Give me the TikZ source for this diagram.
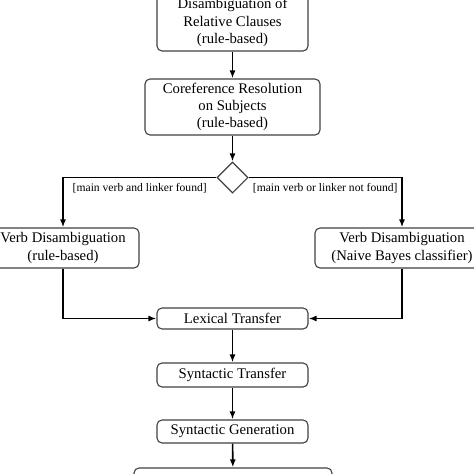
\documentclass[tikz,border=0pt]{standalone}
\usepackage{fontspec}
\setmainfont{Liberation Serif}
\usetikzlibrary{shapes.geometric,arrows.meta}
\begin{document}
\begin{tikzpicture}[x=1pt,y=-1pt,
  font=\fontsize{14.7}{17.3}\selectfont,
  box/.style={draw=black!75, line width=1.1pt, rounded corners=5pt, align=center, inner sep=0pt},
  dec/.style={draw=black!75, line width=1.1pt, diamond, inner sep=0pt, minimum width=31pt, minimum height=31pt},
  conn/.style={line width=1.6pt, -{Latex[length=8pt,width=6pt]}},
  lbl/.style={font=\fontsize{11.6}{13}\selectfont, inner sep=2pt, yshift=-3pt}]
\useasboundingbox (0,0) rectangle (474,474);
\node[box, minimum width=151pt, minimum height=57pt] (dis) at (232.5,22.5) {Disambiguation of\\Relative Clauses\\(rule-based)};
\node[box, minimum width=175pt, minimum height=56pt] (cor) at (232.5,107) {Coreference Resolution\\on Subjects\\(rule-based)};
\node[dec] (dia) at (232.5,177.5) {};
\node[box, minimum width=152pt, minimum height=40pt] (vl) at (63,248) {Verb Disambiguation\\(rule-based)};
\node[box, minimum width=174pt, minimum height=40pt] (vr) at (402,248) {Verb Disambiguation\\(Naive Bayes classifier)};
\node[box, minimum width=151pt, minimum height=21pt] (lex) at (232.5,318.5) {Lexical Transfer};
\node[box, minimum width=151pt, minimum height=24pt] (st) at (232.5,375) {Syntactic Transfer};
\node[box, minimum width=151pt, minimum height=23pt] (sg) at (232.5,431.5) {Syntactic Generation};
\node[box, minimum width=198pt, minimum height=28pt] (mg) at (233,482) {Morphological Generation};
\draw[conn] (dis) -- (cor);
\draw[conn] (cor) -- (dia);
\draw[conn] (dia.west) -| node[lbl, below, pos=0.25] (l1) {[main verb and linker found]} (vl.north);
\draw[conn] (dia.east) -| node[lbl, below, pos=0.25] (l2) {[main verb or linker not found]} (vr.north);
\draw[conn] (vl.south) |- (lex.west);
\draw[conn] (vr.south) |- (lex.east);
\draw[conn] (lex) -- (st);
\draw[conn] (st) -- (sg);
\draw[conn] (sg) -- (mg);
\end{tikzpicture}
\end{document}
